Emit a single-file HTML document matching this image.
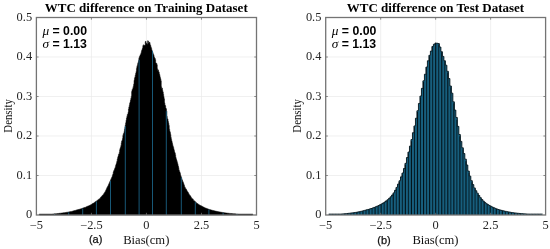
<!DOCTYPE html>
<html><head><meta charset="utf-8"><title>WTC difference</title>
<style>
html,body{margin:0;padding:0;background:#fff;}
svg{display:block;}
.t{font-family:"Liberation Serif",serif;font-weight:bold;font-size:13px;fill:#000;}
.k{font-family:"Liberation Serif",serif;font-size:11.5px;fill:#262626;}
.l{font-family:"Liberation Serif",serif;font-size:12px;fill:#111;}
.s{font-family:"Liberation Sans",sans-serif;font-size:11px;fill:#111;stroke:#111;stroke-width:0.25px;}
.m{font-family:"Liberation Sans",sans-serif;font-weight:bold;font-size:12px;fill:#000;}
.mi{font-family:"Liberation Serif",serif;font-style:italic;font-weight:normal;font-size:13px;}
</style></head><body>
<svg width="550" height="249" viewBox="0 0 550 249">
<rect width="550" height="249" fill="#fff"/>

<path d="M91.42 17.5V215.0M146.45 17.5V215.0M201.47 17.5V215.0M36.4 175.50H256.5M36.4 136.00H256.5M36.4 96.50H256.5M36.4 57.00H256.5" stroke="#e9e9e9" stroke-width="0.7" fill="none"/>
<polygon points="39.48,215.0 39.20,214.10 39.60,214.10 39.60,214.10 40.00,214.10 40.00,214.10 40.40,214.10 40.40,214.10 40.80,214.10 40.80,214.10 41.20,214.10 41.20,214.10 41.60,214.10 41.60,214.10 42.00,214.10 42.00,214.10 42.40,214.10 42.40,214.10 42.80,214.10 42.80,214.10 43.20,214.10 43.20,214.10 43.60,214.10 43.60,214.10 44.00,214.10 44.00,214.10 44.40,214.10 44.40,214.10 44.80,214.10 44.80,214.10 45.20,214.10 45.20,214.10 45.60,214.10 45.60,214.10 46.00,214.10 46.00,214.10 46.40,214.10 46.40,214.10 46.80,214.10 46.80,214.10 47.20,214.10 47.20,214.10 47.61,214.10 47.61,214.10 48.01,214.10 48.01,214.10 48.41,214.10 48.41,214.10 48.81,214.10 48.81,214.10 49.21,214.10 49.21,214.10 49.61,214.10 49.61,214.10 50.01,214.10 50.01,214.10 50.41,214.10 50.41,214.10 50.81,214.10 50.81,214.10 51.21,214.10 51.21,214.10 51.61,214.10 51.61,214.09 52.01,214.09 52.01,214.06 52.41,214.06 52.41,214.00 52.81,214.00 52.81,213.96 53.21,213.96 53.21,213.94 53.61,213.94 53.61,213.90 54.01,213.90 54.01,213.87 54.41,213.87 54.41,213.83 54.81,213.83 54.81,213.77 55.21,213.77 55.21,213.73 55.61,213.73 55.61,213.71 56.01,213.71 56.01,213.67 56.41,213.67 56.41,213.65 56.81,213.65 56.81,213.60 57.21,213.60 57.21,213.55 57.61,213.55 57.61,213.51 58.01,213.51 58.01,213.49 58.41,213.49 58.41,213.45 58.81,213.45 58.81,213.35 59.21,213.35 59.21,213.31 59.61,213.31 59.61,213.29 60.01,213.29 60.01,213.24 60.41,213.24 60.41,213.20 60.81,213.20 60.81,213.15 61.21,213.15 61.21,213.07 61.61,213.07 61.61,213.02 62.01,213.02 62.01,213.02 62.41,213.02 62.41,212.97 62.81,212.97 62.81,212.87 63.21,212.87 63.21,212.82 63.61,212.82 63.61,212.81 64.01,212.81 64.01,212.76 64.41,212.76 64.41,212.67 64.81,212.67 64.81,212.61 65.21,212.61 65.21,212.57 65.61,212.57 65.61,212.51 66.01,212.51 66.01,212.38 66.41,212.38 66.41,212.32 66.81,212.32 66.81,212.24 67.21,212.24 67.21,212.17 67.61,212.17 67.61,212.16 68.01,212.16 68.01,212.09 68.41,212.09 68.41,211.98 68.81,211.98 68.81,211.90 69.21,211.90 69.21,211.85 69.62,211.85 69.62,211.77 70.02,211.77 70.02,211.67 70.42,211.67 70.42,211.58 70.82,211.58 70.82,211.53 71.22,211.53 71.22,211.44 71.62,211.44 71.62,211.38 72.02,211.38 72.02,211.28 72.42,211.28 72.42,211.19 72.82,211.19 72.82,211.09 73.22,211.09 73.22,210.91 73.62,210.91 73.62,210.80 74.02,210.80 74.02,210.63 74.42,210.63 74.42,210.52 74.82,210.52 74.82,210.49 75.22,210.49 75.22,210.38 75.62,210.38 75.62,210.30 76.02,210.30 76.02,210.19 76.42,210.19 76.42,209.98 76.82,209.98 76.82,209.86 77.22,209.86 77.22,209.83 77.62,209.83 77.62,209.71 78.02,209.71 78.02,209.61 78.42,209.61 78.42,209.49 78.82,209.49 78.82,209.37 79.22,209.37 79.22,209.25 79.62,209.25 79.62,209.15 80.02,209.15 80.02,209.03 80.42,209.03 80.42,208.91 80.82,208.91 80.82,208.79 81.22,208.79 81.22,208.73 81.62,208.73 81.62,208.60 82.02,208.60 82.02,208.35 82.42,208.35 82.42,208.21 82.82,208.21 82.82,208.11 83.22,208.11 83.22,207.97 83.62,207.97 83.62,207.74 84.02,207.74 84.02,207.60 84.42,207.60 84.42,207.55 84.82,207.55 84.82,207.40 85.22,207.40 85.22,207.35 85.62,207.35 85.62,207.19 86.02,207.19 86.02,206.90 86.42,206.90 86.42,206.73 86.82,206.73 86.82,206.43 87.22,206.43 87.22,206.25 87.62,206.25 87.62,206.24 88.02,206.24 88.02,206.06 88.42,206.06 88.42,205.92 88.82,205.92 88.82,205.73 89.22,205.73 89.22,205.57 89.62,205.57 89.62,205.37 90.02,205.37 90.02,205.16 90.42,205.16 90.42,204.96 90.82,204.96 90.82,204.68 91.22,204.68 91.22,204.47 91.63,204.47 91.63,204.33 92.03,204.33 92.03,204.11 92.43,204.11 92.43,203.61 92.83,203.61 92.83,203.37 93.23,203.37 93.23,203.31 93.63,203.31 93.63,203.06 94.03,203.06 94.03,202.77 94.43,202.77 94.43,202.50 94.83,202.50 94.83,202.08 95.23,202.08 95.23,201.80 95.63,201.80 95.63,201.51 96.03,201.51 96.03,201.21 96.43,201.21 96.43,201.13 96.83,201.13 96.83,200.82 97.23,200.82 97.23,200.44 97.63,200.44 97.63,200.12 98.03,200.12 98.03,199.73 98.43,199.73 98.43,199.39 98.83,199.39 98.83,199.18 99.23,199.18 99.23,198.82 99.63,198.82 99.63,198.69 100.03,198.69 100.03,198.31 100.43,198.31 100.43,197.54 100.83,197.54 100.83,197.12 101.23,197.12 101.23,196.65 101.63,196.65 101.63,196.20 102.03,196.20 102.03,195.81 102.43,195.81 102.43,195.31 102.83,195.31 102.83,195.04 103.23,195.04 103.23,194.50 103.63,194.50 103.63,193.79 104.03,193.79 104.03,193.19 104.43,193.19 104.43,192.64 104.83,192.64 104.83,191.99 105.23,191.99 105.23,191.24 105.63,191.24 105.63,190.53 106.03,190.53 106.03,189.42 106.43,189.42 106.43,188.65 106.83,188.65 106.83,187.79 107.23,187.79 107.23,186.96 107.63,186.96 107.63,186.33 108.03,186.33 108.03,185.47 108.43,185.47 108.43,184.62 108.83,184.62 108.83,183.73 109.23,183.73 109.23,182.78 109.63,182.78 109.63,181.86 110.03,181.86 110.03,181.14 110.43,181.14 110.43,180.19 110.83,180.19 110.83,179.26 111.23,179.26 111.23,178.28 111.63,178.28 111.63,177.48 112.03,177.48 112.03,176.46 112.43,176.46 112.43,175.19 112.83,175.19 112.83,174.09 113.23,174.09 113.23,172.07 113.64,172.07 113.64,170.86 114.04,170.86 114.04,170.16 114.44,170.16 114.44,168.88 114.84,168.88 114.84,168.05 115.24,168.05 115.24,166.69 115.64,166.69 115.64,165.34 116.04,165.34 116.04,163.91 116.44,163.91 116.44,162.63 116.84,162.63 116.84,161.14 117.24,161.14 117.24,159.02 117.64,159.02 117.64,157.49 118.04,157.49 118.04,155.95 118.44,155.95 118.44,154.41 118.84,154.41 118.84,153.89 119.24,153.89 119.24,152.36 119.64,152.36 119.64,149.70 120.04,149.70 120.04,148.14 120.44,148.14 120.44,147.21 120.84,147.21 120.84,145.62 121.24,145.62 121.24,142.73 121.64,142.73 121.64,141.05 122.04,141.05 122.04,140.19 122.44,140.19 122.44,138.45 122.84,138.45 122.84,135.56 123.24,135.56 123.24,133.70 123.64,133.70 123.64,133.39 124.04,133.39 124.04,131.47 124.44,131.47 124.44,129.37 124.84,129.37 124.84,127.38 125.24,127.38 125.24,124.89 125.64,124.89 125.64,122.85 126.04,122.85 126.04,120.17 126.44,120.17 126.44,118.11 126.84,118.11 126.84,116.51 127.24,116.51 127.24,114.49 127.64,114.49 127.64,114.15 128.04,114.15 128.04,112.22 128.44,112.22 128.44,108.95 128.84,108.95 128.84,107.02 129.24,107.02 129.24,105.25 129.64,105.25 129.64,103.33 130.04,103.33 130.04,101.86 130.44,101.86 130.44,99.92 130.84,99.92 130.84,98.19 131.24,98.19 131.24,96.21 131.64,96.21 131.64,91.58 132.04,91.58 132.04,89.50 132.44,89.50 132.44,89.82 132.84,89.82 132.84,87.75 133.24,87.75 133.24,86.22 133.64,86.22 133.64,84.16 134.04,84.16 134.04,80.33 134.44,80.33 134.44,78.29 134.84,78.29 134.84,76.92 135.24,76.92 135.24,74.96 135.65,74.96 135.65,73.32 136.05,73.32 136.05,71.41 136.45,71.41 136.45,68.42 136.85,68.42 136.85,66.60 137.25,66.60 137.25,65.25 137.65,65.25 137.65,63.59 138.05,63.59 138.05,62.17 138.45,62.17 138.45,60.64 138.85,60.64 138.85,58.31 139.25,58.31 139.25,56.83 139.65,56.83 139.65,56.32 140.05,56.32 140.05,54.81 140.45,54.81 140.45,54.65 140.85,54.65 140.85,53.29 141.25,53.29 141.25,51.62 141.65,51.62 141.65,50.35 142.05,50.35 142.05,49.28 142.45,49.28 142.45,47.94 142.85,47.94 142.85,45.67 143.25,45.67 143.25,44.80 143.65,44.80 143.65,46.01 144.05,46.01 144.05,45.30 144.45,45.30 144.45,45.82 144.85,45.82 144.85,45.23 145.25,45.23 145.25,41.74 145.65,41.74 145.65,41.34 146.05,41.34 146.05,43.28 146.45,43.28 146.45,43.15 146.85,43.15 146.85,44.12 147.25,44.12 147.25,44.22 147.65,44.22 147.65,40.77 148.05,40.77 148.05,41.04 148.45,41.04 148.45,43.07 148.85,43.07 148.85,43.48 149.25,43.48 149.25,42.09 149.65,42.09 149.65,42.63 150.05,42.63 150.05,44.81 150.45,44.81 150.45,45.53 150.85,45.53 150.85,47.21 151.25,47.21 151.25,48.17 151.65,48.17 151.65,49.77 152.05,49.77 152.05,51.33 152.45,51.33 152.45,51.96 152.85,51.96 152.85,53.57 153.25,53.57 153.25,54.30 153.65,54.30 153.65,55.25 154.05,55.25 154.05,56.98 154.45,56.98 154.45,57.99 154.85,57.99 154.85,58.38 155.25,58.38 155.25,59.63 155.65,59.63 155.65,62.70 156.05,62.70 156.05,64.06 156.45,64.06 156.45,63.35 156.85,63.35 156.85,64.84 157.25,64.84 157.25,68.80 157.66,68.80 157.66,70.38 158.06,70.38 158.06,69.90 158.46,69.90 158.46,71.60 158.86,71.60 158.86,72.23 159.26,72.23 159.26,74.08 159.66,74.08 159.66,75.51 160.06,75.51 160.06,77.49 160.46,77.49 160.46,78.77 160.86,78.77 160.86,80.85 161.26,80.85 161.26,86.79 161.66,86.79 161.66,88.86 162.06,88.86 162.06,88.32 162.46,88.32 162.46,90.45 162.86,90.45 162.86,92.09 163.26,92.09 163.26,94.24 163.66,94.24 163.66,96.62 164.06,96.62 164.06,98.77 164.46,98.77 164.46,102.87 164.86,102.87 164.86,105.00 165.26,105.00 165.26,105.83 165.66,105.83 165.66,108.02 166.06,108.02 166.06,108.87 166.46,108.87 166.46,111.13 166.86,111.13 166.86,116.43 167.26,116.43 167.26,118.66 167.66,118.66 167.66,119.20 168.06,119.20 168.06,121.49 168.46,121.49 168.46,123.24 168.86,123.24 168.86,125.50 169.26,125.50 169.26,129.14 169.66,129.14 169.66,131.29 170.06,131.29 170.06,132.43 170.46,132.43 170.46,134.47 170.86,134.47 170.86,137.61 171.26,137.61 171.26,139.48 171.66,139.48 171.66,141.11 172.06,141.11 172.06,142.85 172.46,142.85 172.46,144.54 172.86,144.54 172.86,146.18 173.26,146.18 173.26,147.17 173.66,147.17 173.66,148.77 174.06,148.77 174.06,150.52 174.46,150.52 174.46,152.09 174.86,152.09 174.86,153.09 175.26,153.09 175.26,154.68 175.66,154.68 175.66,157.27 176.06,157.27 176.06,158.85 176.46,158.85 176.46,160.02 176.86,160.02 176.86,161.62 177.26,161.62 177.26,162.69 177.66,162.69 177.66,164.29 178.06,164.29 178.06,166.05 178.46,166.05 178.46,167.60 178.86,167.60 178.86,169.91 179.26,169.91 179.26,171.38 179.67,171.38 179.67,172.06 180.07,172.06 180.07,173.49 180.47,173.49 180.47,175.28 180.87,175.28 180.87,176.60 181.27,176.60 181.27,177.59 181.67,177.59 181.67,178.82 182.07,178.82 182.07,180.03 182.47,180.03 182.47,181.15 182.87,181.15 182.87,181.96 183.27,181.96 183.27,182.99 183.67,182.99 183.67,184.29 184.07,184.29 184.07,185.22 184.47,185.22 184.47,186.63 184.87,186.63 184.87,187.48 185.27,187.48 185.27,188.17 185.67,188.17 185.67,188.96 186.07,188.96 186.07,189.24 186.47,189.24 186.47,189.99 186.87,189.99 186.87,190.93 187.27,190.93 187.27,191.63 187.67,191.63 187.67,192.02 188.07,192.02 188.07,192.69 188.47,192.69 188.47,193.51 188.87,193.51 188.87,194.13 189.27,194.13 189.27,194.93 189.67,194.93 189.67,195.52 190.07,195.52 190.07,195.79 190.47,195.79 190.47,196.36 190.87,196.36 190.87,197.22 191.27,197.22 191.27,197.75 191.67,197.75 191.67,198.46 192.07,198.46 192.07,198.95 192.47,198.95 192.47,198.84 192.87,198.84 192.87,199.32 193.27,199.32 193.27,200.32 193.67,200.32 193.67,200.74 194.07,200.74 194.07,200.83 194.47,200.83 194.47,201.23 194.87,201.23 194.87,201.57 195.27,201.57 195.27,201.93 195.67,201.93 195.67,202.37 196.07,202.37 196.07,202.70 196.47,202.70 196.47,203.21 196.87,203.21 196.87,203.51 197.27,203.51 197.27,203.51 197.67,203.51 197.67,203.79 198.07,203.79 198.07,204.30 198.47,204.30 198.47,204.55 198.87,204.55 198.87,204.79 199.27,204.79 199.27,205.03 199.67,205.03 199.67,205.18 200.07,205.18 200.07,205.41 200.47,205.41 200.47,205.53 200.87,205.53 200.87,205.75 201.27,205.75 201.27,206.01 201.68,206.01 201.68,206.23 202.08,206.23 202.08,206.40 202.48,206.40 202.48,206.60 202.88,206.60 202.88,206.90 203.28,206.90 203.28,207.09 203.68,207.09 203.68,207.27 204.08,207.27 204.08,207.46 204.48,207.46 204.48,207.70 204.88,207.70 204.88,207.88 205.28,207.88 205.28,208.01 205.68,208.01 205.68,208.18 206.08,208.18 206.08,208.29 206.48,208.29 206.48,208.45 206.88,208.45 206.88,208.66 207.28,208.66 207.28,208.81 207.68,208.81 207.68,208.92 208.08,208.92 208.08,209.06 208.48,209.06 208.48,209.25 208.88,209.25 208.88,209.39 209.28,209.39 209.28,209.52 209.68,209.52 209.68,209.64 210.08,209.64 210.08,209.73 210.48,209.73 210.48,209.85 210.88,209.85 210.88,209.98 211.28,209.98 211.28,210.09 211.68,210.09 211.68,210.17 212.08,210.17 212.08,210.28 212.48,210.28 212.48,210.40 212.88,210.40 212.88,210.50 213.28,210.50 213.28,210.54 213.68,210.54 213.68,210.64 214.08,210.64 214.08,210.81 214.48,210.81 214.48,210.90 214.88,210.90 214.88,211.00 215.28,211.00 215.28,211.09 215.68,211.09 215.68,211.20 216.08,211.20 216.08,211.29 216.48,211.29 216.48,211.34 216.88,211.34 216.88,211.42 217.28,211.42 217.28,211.49 217.68,211.49 217.68,211.57 218.08,211.57 218.08,211.69 218.48,211.69 218.48,211.77 218.88,211.77 218.88,211.83 219.28,211.83 219.28,211.91 219.68,211.91 219.68,211.96 220.08,211.96 220.08,212.04 220.48,212.04 220.48,212.13 220.88,212.13 220.88,212.20 221.28,212.20 221.28,212.29 221.68,212.29 221.68,212.36 222.08,212.36 222.08,212.39 222.48,212.39 222.48,212.46 222.88,212.46 222.88,212.54 223.28,212.54 223.28,212.60 223.69,212.60 223.69,212.66 224.09,212.66 224.09,212.72 224.49,212.72 224.49,212.76 224.89,212.76 224.89,212.82 225.29,212.82 225.29,212.88 225.69,212.88 225.69,212.93 226.09,212.93 226.09,213.01 226.49,213.01 226.49,213.06 226.89,213.06 226.89,213.11 227.29,213.11 227.29,213.15 227.69,213.15 227.69,213.18 228.09,213.18 228.09,213.23 228.49,213.23 228.49,213.27 228.89,213.27 228.89,213.31 229.29,213.31 229.29,213.38 229.69,213.38 229.69,213.42 230.09,213.42 230.09,213.41 230.49,213.41 230.49,213.45 230.89,213.45 230.89,213.50 231.29,213.50 231.29,213.54 231.69,213.54 231.69,213.56 232.09,213.56 232.09,213.59 232.49,213.59 232.49,213.65 232.89,213.65 232.89,213.68 233.29,213.68 233.29,213.68 233.69,213.68 233.69,213.72 234.09,213.72 234.09,213.77 234.49,213.77 234.49,213.80 234.89,213.80 234.89,213.82 235.29,213.82 235.29,213.85 235.69,213.85 235.69,213.89 236.09,213.89 236.09,213.92 236.49,213.92 236.49,213.93 236.89,213.93 236.89,213.96 237.29,213.96 237.29,213.98 237.69,213.98 237.69,214.01 238.09,214.01 238.09,214.03 238.49,214.03 238.49,214.06 238.89,214.06 238.89,214.08 239.29,214.08 239.29,214.10 239.69,214.10 239.69,214.10 240.09,214.10 240.09,214.10 240.49,214.10 240.49,214.10 240.89,214.10 240.89,214.10 241.29,214.10 241.29,214.10 241.69,214.10 241.69,214.10 242.09,214.10 242.09,214.10 242.49,214.10 242.49,214.10 242.89,214.10 242.89,214.10 243.29,214.10 243.29,214.10 243.69,214.10 243.69,214.10 244.09,214.10 244.09,214.10 244.49,214.10 244.49,214.10 244.89,214.10 244.89,214.10 245.29,214.10 245.29,214.10 245.70,214.10 245.70,214.10 246.10,214.10 246.10,214.10 246.50,214.10 246.50,214.10 246.90,214.10 246.90,214.10 247.30,214.10 247.30,214.10 247.70,214.10 247.70,214.10 248.10,214.10 248.10,214.10 248.50,214.10 248.50,214.10 248.90,214.10 248.90,214.10 249.30,214.10 249.30,214.10 249.70,214.10 249.70,214.10 250.10,214.10 250.10,214.10 250.50,214.10 250.50,214.10 250.90,214.10 250.90,214.10 251.30,214.10 251.30,214.10 251.70,214.10 251.70,214.10 252.10,214.10 252.10,214.10 252.50,214.10 252.50,214.10 252.90,214.10 252.54,215.0" fill="#000" stroke="#000" stroke-width="0.5"/>
<path d="M54.6 214.10V215.0M68.7 212.29V215.0M82.7 208.52V215.0M96.4 201.57V215.0M110.5 180.81V215.0M125.3 126.14V215.0M139.1 59.76V215.0M152.5 50.80V215.0M166.3 111.15V215.0M181.3 177.49V215.0M195.3 202.19V215.0M208.9 209.60V215.0M223.1 212.85V215.0M237.0 214.10V215.0" stroke="#1b6285" stroke-width="0.9" fill="none"/>
<rect x="36.4" y="17.5" width="220.10" height="197.5" fill="none" stroke="#747474" stroke-width="1.3"/>
<path d="M91.42 215.0v-2.2M91.42 17.5v2.2M146.45 215.0v-2.2M146.45 17.5v2.2M201.47 215.0v-2.2M201.47 17.5v2.2M36.4 175.50h2.2M256.5 175.50h-2.2M36.4 136.00h2.2M256.5 136.00h-2.2M36.4 96.50h2.2M256.5 96.50h-2.2M36.4 57.00h2.2M256.5 57.00h-2.2" stroke="#6e6e6e" stroke-width="0.8" fill="none"/>
<text class="k" transform="translate(36.40 229.20) scale(1.08 1)" text-anchor="middle">−5</text>
<text class="k" transform="translate(91.42 229.20) scale(1.08 1)" text-anchor="middle">−2.5</text>
<text class="k" transform="translate(146.45 229.20) scale(1.08 1)" text-anchor="middle">0</text>
<text class="k" transform="translate(201.47 229.20) scale(1.08 1)" text-anchor="middle">2.5</text>
<text class="k" transform="translate(256.50 229.20) scale(1.08 1)" text-anchor="middle">5</text>
<text class="k" transform="translate(32.10 218.10) scale(1.08 1)" text-anchor="end">0</text>
<text class="k" transform="translate(32.10 178.60) scale(1.08 1)" text-anchor="end">0.1</text>
<text class="k" transform="translate(32.10 139.10) scale(1.08 1)" text-anchor="end">0.2</text>
<text class="k" transform="translate(32.10 99.60) scale(1.08 1)" text-anchor="end">0.3</text>
<text class="k" transform="translate(32.10 60.10) scale(1.08 1)" text-anchor="end">0.4</text>
<text class="k" transform="translate(32.10 20.60) scale(1.08 1)" text-anchor="end">0.5</text>
<text class="t" transform="translate(146.25 12.20)" text-anchor="middle">WTC difference on Training Dataset</text>
<text class="l" transform="translate(146.25 244.20) scale(1.05 1)" text-anchor="middle">Bias(cm)</text>
<text class="l" transform="translate(11.80 115.85) rotate(-90) scale(0.8 1)" text-anchor="middle" style="font-size:13.5px">Density</text>
<text class="s" transform="translate(95.60 243.40)" text-anchor="middle">(a)</text>
<text class="m" transform="translate(42.40 34.50) scale(1.025 1)" text-anchor="start"><tspan class="mi">μ</tspan> = 0.00</text>
<text class="m" transform="translate(42.40 47.80) scale(1.025 1)" text-anchor="start"><tspan class="mi">σ</tspan> = 1.13</text>
<path d="M380.68 17.5V215.0M435.65 17.5V215.0M490.62 17.5V215.0M325.7 175.50H545.6M325.7 136.00H545.6M325.7 96.50H545.6M325.7 57.00H545.6" stroke="#e9e9e9" stroke-width="0.7" fill="none"/>
<polygon points="328.78,215.0 328.69,214.10 330.19,214.10 330.19,214.10 331.68,214.10 331.68,214.10 333.18,214.10 333.18,214.10 334.68,214.10 334.68,214.10 336.17,214.10 336.17,214.10 337.67,214.10 337.67,214.10 339.16,214.10 339.16,214.10 340.66,214.10 340.66,214.06 342.16,214.06 342.16,213.93 343.65,213.93 343.65,213.79 345.15,213.79 345.15,213.64 346.64,213.64 346.64,213.48 348.14,213.48 348.14,213.32 349.63,213.32 349.63,213.14 351.13,213.14 351.13,212.94 352.63,212.94 352.63,212.75 354.12,212.75 354.12,212.53 355.62,212.53 355.62,212.30 357.11,212.30 357.11,212.04 358.61,212.04 358.61,211.73 360.11,211.73 360.11,211.40 361.60,211.40 361.60,211.05 363.10,211.05 363.10,210.65 364.59,210.65 364.59,210.24 366.09,210.24 366.09,209.82 367.59,209.82 367.59,209.44 369.08,209.44 369.08,208.98 370.58,208.98 370.58,208.50 372.07,208.50 372.07,207.97 373.57,207.97 373.57,207.44 375.07,207.44 375.07,206.83 376.56,206.83 376.56,206.19 378.06,206.19 378.06,205.51 379.55,205.51 379.55,204.73 381.05,204.73 381.05,203.88 382.54,203.88 382.54,203.01 384.04,203.01 384.04,202.02 385.54,202.02 385.54,200.92 387.03,200.92 387.03,199.74 388.53,199.74 388.53,198.38 390.02,198.38 390.02,196.84 391.52,196.84 391.52,195.09 393.02,195.09 393.02,192.90 394.51,192.90 394.51,190.37 396.01,190.37 396.01,187.40 397.50,187.40 397.50,184.13 399.00,184.13 399.00,180.80 400.50,180.80 400.50,176.86 401.99,176.86 401.99,173.04 403.49,173.04 403.49,168.46 404.98,168.46 404.98,163.33 406.48,163.33 406.48,157.52 407.98,157.52 407.98,152.05 409.47,152.05 409.47,146.14 410.97,146.14 410.97,139.60 412.46,139.60 412.46,132.71 413.96,132.71 413.96,125.95 415.46,125.95 415.46,118.23 416.95,118.23 416.95,110.74 418.45,110.74 418.45,103.45 419.94,103.45 419.94,96.06 421.44,96.06 421.44,88.35 422.93,88.35 422.93,80.80 424.43,80.80 424.43,74.25 425.93,74.25 425.93,67.10 427.42,67.10 427.42,60.75 428.92,60.75 428.92,55.31 430.41,55.31 430.41,51.04 431.91,51.04 431.91,46.54 433.41,46.54 433.41,44.27 434.90,44.27 434.90,43.26 436.40,43.26 436.40,43.26 437.89,43.26 437.89,43.61 439.39,43.61 439.39,47.03 440.89,47.03 440.89,51.68 442.38,51.68 442.38,56.40 443.88,56.40 443.88,60.74 445.37,60.74 445.37,65.20 446.87,65.20 446.87,71.29 448.37,71.29 448.37,78.56 449.86,78.56 449.86,86.00 451.36,86.00 451.36,93.16 452.85,93.16 452.85,101.83 454.35,101.83 454.35,110.07 455.84,110.07 455.84,117.45 457.34,117.45 457.34,126.37 458.84,126.37 458.84,134.54 460.33,134.54 460.33,141.39 461.83,141.39 461.83,147.82 463.32,147.82 463.32,153.53 464.82,153.53 464.82,159.16 466.32,159.16 466.32,164.99 467.81,164.99 467.81,171.08 469.31,171.08 469.31,176.13 470.80,176.13 470.80,180.69 472.30,180.69 472.30,184.60 473.80,184.60 473.80,187.95 475.29,187.95 475.29,190.74 476.79,190.74 476.79,193.18 478.28,193.18 478.28,195.52 479.78,195.52 479.78,197.65 481.28,197.65 481.28,199.49 482.77,199.49 482.77,201.08 484.27,201.08 484.27,202.45 485.76,202.45 485.76,203.66 487.26,203.66 487.26,204.62 488.76,204.62 488.76,205.49 490.25,205.49 490.25,206.30 491.75,206.30 491.75,207.06 493.24,207.06 493.24,207.78 494.74,207.78 494.74,208.39 496.23,208.39 496.23,208.98 497.73,208.98 497.73,209.49 499.23,209.49 499.23,209.95 500.72,209.95 500.72,210.35 502.22,210.35 502.22,210.72 503.71,210.72 503.71,211.08 505.21,211.08 505.21,211.39 506.71,211.39 506.71,211.72 508.20,211.72 508.20,211.99 509.70,211.99 509.70,212.26 511.19,212.26 511.19,212.53 512.69,212.53 512.69,212.75 514.19,212.75 514.19,212.95 515.68,212.95 515.68,213.13 517.18,213.13 517.18,213.29 518.67,213.29 518.67,213.44 520.17,213.44 520.17,213.57 521.67,213.57 521.67,213.70 523.16,213.70 523.16,213.81 524.66,213.81 524.66,213.91 526.15,213.91 526.15,214.01 527.65,214.01 527.65,214.10 529.14,214.10 529.14,214.10 530.64,214.10 530.64,214.10 532.14,214.10 532.14,214.10 533.63,214.10 533.63,214.10 535.13,214.10 535.13,214.10 536.62,214.10 536.62,214.10 538.12,214.10 538.12,214.10 539.62,214.10 539.62,214.10 541.11,214.10 541.11,214.10 542.61,214.10 541.64,215.0" fill="#175e7d"/>
<g fill="none" stroke="#03141b"><path d="M326.60 215.00V215.0M332.66 214.10V215.0M338.72 214.10V215.0M344.78 214.05V215.0M350.84 213.38V215.0M356.90 212.50V215.0M362.96 211.18V215.0M369.02 209.51V215.0M375.08 207.42V215.0M381.14 204.57V215.0M387.20 200.48V215.0M393.26 193.94V215.0M399.32 182.04V215.0M405.38 164.70V215.0M411.44 141.28V215.0M417.50 111.99V215.0M423.56 81.94V215.0M429.62 56.18V215.0M435.68 42.79V215.0M441.74 52.32V215.0M447.80 72.61V215.0M453.86 103.23V215.0M459.92 136.24V215.0M465.98 161.27V215.0M472.04 182.37V215.0M478.10 194.45V215.0M484.16 202.03V215.0M490.22 206.19V215.0M496.28 209.02V215.0M502.34 210.87V215.0M508.40 212.19V215.0M514.46 213.19V215.0M520.52 213.84V215.0M526.58 214.10V215.0M532.64 214.10V215.0M538.70 214.10V215.0M544.76 215.00V215.0" stroke-width="1.1"/><path d="M329.63 214.10V215.0M335.69 214.10V215.0M341.75 214.10V215.0M347.81 213.74V215.0M353.87 212.98V215.0M359.93 211.91V215.0M365.99 210.37V215.0M372.05 208.54V215.0M378.11 206.11V215.0M384.17 202.72V215.0M390.23 197.71V215.0M396.29 188.63V215.0M402.35 174.46V215.0M408.41 153.31V215.0M414.47 127.10V215.0M420.53 97.40V215.0M426.59 67.67V215.0M432.65 46.78V215.0M438.71 44.61V215.0M444.77 61.19V215.0M450.83 87.28V215.0M456.89 119.83V215.0M462.95 149.37V215.0M469.01 172.87V215.0M475.07 189.22V215.0M481.13 198.71V215.0M487.19 204.39V215.0M493.25 207.72V215.0M499.31 210.05V215.0M505.37 211.57V215.0M511.43 212.73V215.0M517.49 213.55V215.0M523.55 214.08V215.0M529.61 214.10V215.0M535.67 214.10V215.0M541.73 215.00V215.0" stroke-width="0.85"/></g>
<polyline points="328.69,214.10 330.19,214.10 330.19,214.10 331.68,214.10 331.68,214.10 333.18,214.10 333.18,214.10 334.68,214.10 334.68,214.10 336.17,214.10 336.17,214.10 337.67,214.10 337.67,214.10 339.16,214.10 339.16,214.10 340.66,214.10 340.66,214.06 342.16,214.06 342.16,213.93 343.65,213.93 343.65,213.79 345.15,213.79 345.15,213.64 346.64,213.64 346.64,213.48 348.14,213.48 348.14,213.32 349.63,213.32 349.63,213.14 351.13,213.14 351.13,212.94 352.63,212.94 352.63,212.75 354.12,212.75 354.12,212.53 355.62,212.53 355.62,212.30 357.11,212.30 357.11,212.04 358.61,212.04 358.61,211.73 360.11,211.73 360.11,211.40 361.60,211.40 361.60,211.05 363.10,211.05 363.10,210.65 364.59,210.65 364.59,210.24 366.09,210.24 366.09,209.82 367.59,209.82 367.59,209.44 369.08,209.44 369.08,208.98 370.58,208.98 370.58,208.50 372.07,208.50 372.07,207.97 373.57,207.97 373.57,207.44 375.07,207.44 375.07,206.83 376.56,206.83 376.56,206.19 378.06,206.19 378.06,205.51 379.55,205.51 379.55,204.73 381.05,204.73 381.05,203.88 382.54,203.88 382.54,203.01 384.04,203.01 384.04,202.02 385.54,202.02 385.54,200.92 387.03,200.92 387.03,199.74 388.53,199.74 388.53,198.38 390.02,198.38 390.02,196.84 391.52,196.84 391.52,195.09 393.02,195.09 393.02,192.90 394.51,192.90 394.51,190.37 396.01,190.37 396.01,187.40 397.50,187.40 397.50,184.13 399.00,184.13 399.00,180.80 400.50,180.80 400.50,176.86 401.99,176.86 401.99,173.04 403.49,173.04 403.49,168.46 404.98,168.46 404.98,163.33 406.48,163.33 406.48,157.52 407.98,157.52 407.98,152.05 409.47,152.05 409.47,146.14 410.97,146.14 410.97,139.60 412.46,139.60 412.46,132.71 413.96,132.71 413.96,125.95 415.46,125.95 415.46,118.23 416.95,118.23 416.95,110.74 418.45,110.74 418.45,103.45 419.94,103.45 419.94,96.06 421.44,96.06 421.44,88.35 422.93,88.35 422.93,80.80 424.43,80.80 424.43,74.25 425.93,74.25 425.93,67.10 427.42,67.10 427.42,60.75 428.92,60.75 428.92,55.31 430.41,55.31 430.41,51.04 431.91,51.04 431.91,46.54 433.41,46.54 433.41,44.27 434.90,44.27 434.90,43.26 436.40,43.26 436.40,43.26 437.89,43.26 437.89,43.61 439.39,43.61 439.39,47.03 440.89,47.03 440.89,51.68 442.38,51.68 442.38,56.40 443.88,56.40 443.88,60.74 445.37,60.74 445.37,65.20 446.87,65.20 446.87,71.29 448.37,71.29 448.37,78.56 449.86,78.56 449.86,86.00 451.36,86.00 451.36,93.16 452.85,93.16 452.85,101.83 454.35,101.83 454.35,110.07 455.84,110.07 455.84,117.45 457.34,117.45 457.34,126.37 458.84,126.37 458.84,134.54 460.33,134.54 460.33,141.39 461.83,141.39 461.83,147.82 463.32,147.82 463.32,153.53 464.82,153.53 464.82,159.16 466.32,159.16 466.32,164.99 467.81,164.99 467.81,171.08 469.31,171.08 469.31,176.13 470.80,176.13 470.80,180.69 472.30,180.69 472.30,184.60 473.80,184.60 473.80,187.95 475.29,187.95 475.29,190.74 476.79,190.74 476.79,193.18 478.28,193.18 478.28,195.52 479.78,195.52 479.78,197.65 481.28,197.65 481.28,199.49 482.77,199.49 482.77,201.08 484.27,201.08 484.27,202.45 485.76,202.45 485.76,203.66 487.26,203.66 487.26,204.62 488.76,204.62 488.76,205.49 490.25,205.49 490.25,206.30 491.75,206.30 491.75,207.06 493.24,207.06 493.24,207.78 494.74,207.78 494.74,208.39 496.23,208.39 496.23,208.98 497.73,208.98 497.73,209.49 499.23,209.49 499.23,209.95 500.72,209.95 500.72,210.35 502.22,210.35 502.22,210.72 503.71,210.72 503.71,211.08 505.21,211.08 505.21,211.39 506.71,211.39 506.71,211.72 508.20,211.72 508.20,211.99 509.70,211.99 509.70,212.26 511.19,212.26 511.19,212.53 512.69,212.53 512.69,212.75 514.19,212.75 514.19,212.95 515.68,212.95 515.68,213.13 517.18,213.13 517.18,213.29 518.67,213.29 518.67,213.44 520.17,213.44 520.17,213.57 521.67,213.57 521.67,213.70 523.16,213.70 523.16,213.81 524.66,213.81 524.66,213.91 526.15,213.91 526.15,214.01 527.65,214.01 527.65,214.10 529.14,214.10 529.14,214.10 530.64,214.10 530.64,214.10 532.14,214.10 532.14,214.10 533.63,214.10 533.63,214.10 535.13,214.10 535.13,214.10 536.62,214.10 536.62,214.10 538.12,214.10 538.12,214.10 539.62,214.10 539.62,214.10 541.11,214.10 541.11,214.10 542.61,214.10" fill="none" stroke="#03141b" stroke-width="0.9"/>
<rect x="325.7" y="17.5" width="219.90" height="197.5" fill="none" stroke="#747474" stroke-width="1.3"/>
<path d="M380.68 215.0v-2.2M380.68 17.5v2.2M435.65 215.0v-2.2M435.65 17.5v2.2M490.62 215.0v-2.2M490.62 17.5v2.2M325.7 175.50h2.2M545.6 175.50h-2.2M325.7 136.00h2.2M545.6 136.00h-2.2M325.7 96.50h2.2M545.6 96.50h-2.2M325.7 57.00h2.2M545.6 57.00h-2.2" stroke="#6e6e6e" stroke-width="0.8" fill="none"/>
<text class="k" transform="translate(325.70 229.20) scale(1.08 1)" text-anchor="middle">−5</text>
<text class="k" transform="translate(380.68 229.20) scale(1.08 1)" text-anchor="middle">−2.5</text>
<text class="k" transform="translate(435.65 229.20) scale(1.08 1)" text-anchor="middle">0</text>
<text class="k" transform="translate(490.62 229.20) scale(1.08 1)" text-anchor="middle">2.5</text>
<text class="k" transform="translate(545.60 229.20) scale(1.08 1)" text-anchor="middle">5</text>
<text class="k" transform="translate(321.40 218.10) scale(1.08 1)" text-anchor="end">0</text>
<text class="k" transform="translate(321.40 178.60) scale(1.08 1)" text-anchor="end">0.1</text>
<text class="k" transform="translate(321.40 139.10) scale(1.08 1)" text-anchor="end">0.2</text>
<text class="k" transform="translate(321.40 99.60) scale(1.08 1)" text-anchor="end">0.3</text>
<text class="k" transform="translate(321.40 60.10) scale(1.08 1)" text-anchor="end">0.4</text>
<text class="k" transform="translate(321.40 20.60) scale(1.08 1)" text-anchor="end">0.5</text>
<text class="t" transform="translate(435.45 12.20)" text-anchor="middle">WTC difference on Test Dataset</text>
<text class="l" transform="translate(435.45 244.20) scale(1.05 1)" text-anchor="middle">Bias(cm)</text>
<text class="l" transform="translate(301.10 115.85) rotate(-90) scale(0.8 1)" text-anchor="middle" style="font-size:13.5px">Density</text>
<text class="s" transform="translate(384.00 244.00)" text-anchor="middle">(b)</text>
<text class="m" transform="translate(331.70 34.50) scale(1.025 1)" text-anchor="start"><tspan class="mi">μ</tspan> = 0.00</text>
<text class="m" transform="translate(331.70 47.80) scale(1.025 1)" text-anchor="start"><tspan class="mi">σ</tspan> = 1.13</text>
</svg></body></html>
